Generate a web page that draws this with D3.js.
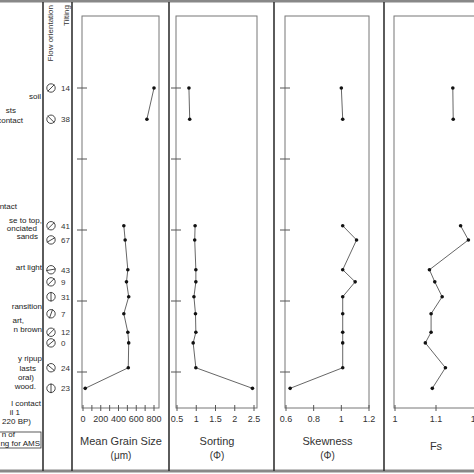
<!DOCTYPE html>
<html><head><meta charset="utf-8">
<script src="https://cdn.jsdelivr.net/npm/d3@7"></script>
<style>body{margin:0;background:#fff}svg{display:block;font-family:"Liberation Sans",Arial,sans-serif}</style>
</head><body><svg id="c" width="474" height="474"></svg>
<script>
// depth of each sample (in depth-tick units, 0 at top tick)
const depth = [0, 0.44, 1.94, 2.14, 2.56, 2.73, 2.94, 3.18, 3.44, 3.59, 3.94, 4.23];
const group = [0,0,1,1,1,1,1,1,1,1,1,1];
const tilting = [14,38,41,67,43,9,31,7,12,0,24,23];
const flowAngle = [45,-45,45,60,80,45,0,20,45,50,-50,0];
const grainSize = [800,720,460,475,505,490,515,460,505,515,510,25];
const sorting = [0.81,0.83,0.97,0.96,0.99,0.99,0.94,0.98,0.99,0.92,0.99,2.46];
const skewness = [1.0,1.01,1.01,1.11,1.01,1.10,1.01,1.01,1.01,1.01,1.01,0.63];
const fs = [1.141,1.142,1.160,1.179,1.084,1.097,1.115,1.088,1.088,1.074,1.123,1.091];
const depthTicks = [0,1,2,3,4];
const legendText = [
 ["soil",41,99],["sts",16,113],["contact",23,123],["ntact",17,209],
 ["se to top,",42,223],["onciated",37,231],["sands",38,239],["art light",42,270],
 ["ransition",42,309],["art,",24,323],["n brown",42,332],["y ripup",42,361],
 ["lasts",36,371],["oral)",34,380],["wood.",36,389],["l contact",41,406],
 ["il 1",20,415],["220 BP)",31,424],["n of",15,437],["ng for AMS",40,446]];

(function(){
const svg = d3.select("#c");
const y = d3.scaleLinear().domain([0,4]).range([88,372]);
const boxTop = 16, boxBottom = 408;

svg.append("rect").attr("x",-2).attr("y",1).attr("width",480).attr("height",470)
  .attr("fill","none").attr("stroke","#888").attr("stroke-width",3);
[43,72,169,274,384].forEach(x=>svg.append("line").attr("x1",x).attr("x2",x)
  .attr("y1",2).attr("y2",471).attr("stroke","#333").attr("stroke-width",1.6));

legendText.forEach(([t,x,yy])=>svg.append("text").attr("x",x).attr("y",yy)
  .attr("text-anchor","end").attr("font-size",8).attr("fill","#222").text(t));
svg.append("rect").attr("x",-2).attr("y",432).attr("width",43).attr("height",16)
  .attr("fill","none").attr("stroke","#333").attr("stroke-width",0.8);

svg.append("text").attr("transform","translate(53,5) rotate(-90)").attr("text-anchor","end")
  .attr("font-size",8).attr("fill","#333").text("Flow orientation");
svg.append("text").attr("transform","translate(69,5) rotate(-90)").attr("text-anchor","end")
  .attr("font-size",8).attr("fill","#333").text("Tilting");
depth.forEach((d,i)=>{
  const g = svg.append("g").attr("transform",`translate(51,${y(d)})`);
  g.append("circle").attr("r",4.2).attr("fill","none").attr("stroke","#333").attr("stroke-width",0.9);
  const a = flowAngle[i]*Math.PI/180;
  g.append("line").attr("x1",-4.8*Math.sin(a)).attr("y1",4.8*Math.cos(a))
    .attr("x2",4.8*Math.sin(a)).attr("y2",-4.8*Math.cos(a)).attr("stroke","#333").attr("stroke-width",0.9);
  svg.append("text").attr("x",61).attr("y",y(d)+3).attr("font-size",8).attr("fill","#333").text(tilting[i]);
});

function panel(vals, domain, range, boxR, ticks, labelTicks, title, sub, yTicks){
  const x = d3.scaleLinear().domain(domain).range(range);
  const x0 = range[0]-1;
  svg.append("rect").attr("x",x0).attr("y",boxTop).attr("width",boxR-x0).attr("height",boxBottom-boxTop)
    .attr("fill","none").attr("stroke","#777").attr("stroke-width",1);
  if(yTicks) depthTicks.forEach(t=>svg.append("line").attr("x1",x0-5).attr("x2",x0+5)
    .attr("y1",y(t)).attr("y2",y(t)).attr("stroke","#555"));
  ticks.forEach(t=>svg.append("line").attr("x1",x(t)).attr("x2",x(t)).attr("y1",boxBottom-3)
    .attr("y2",boxBottom+3).attr("stroke","#555"));
  labelTicks.forEach(t=>svg.append("text").attr("x",x(t)).attr("y",422).attr("text-anchor","middle")
    .attr("font-size",9).attr("fill","#333").text(t));
  [0,1].forEach(gi=>{
    const pts = vals.map((v,i)=>[x(v),y(depth[i]),group[i]]).filter(p=>p[2]===gi);
    svg.append("path").attr("d",d3.line()(pts.map(p=>[p[0],p[1]]))).attr("fill","none")
      .attr("stroke","#555").attr("stroke-width",0.9);
    pts.forEach(p=>svg.append("circle").attr("cx",p[0]).attr("cy",p[1]).attr("r",1.8).attr("fill","#111"));
  });
  const cx = (range[0]+Math.min(boxR,474))/2;
  svg.append("text").attr("x",title==="Fs"?436:cx).attr("y",sub?445:450).attr("text-anchor","middle")
    .attr("font-size",11).attr("fill","#333").text(title);
  if(sub) svg.append("text").attr("x",cx).attr("y",459).attr("text-anchor","middle")
    .attr("font-size",10).attr("fill","#333").text(sub);
}
panel(grainSize,[0,800],[83,154],159,d3.range(0,801,100),[0,200,400,600,800],"Mean Grain Size","(μm)",true);
panel(sorting,[0.5,2.5],[177,254],257,[0.5,1,1.5,2,2.5],[0.5,1,1.5,2,2.5],"Sorting","(Φ)",true);
panel(skewness,[0.6,1.2],[286,369],369,[0.6,0.8,1,1.2],[0.6,0.8,1,1.2],"Skewness","(Φ)",true);
panel(fs,[1,1.2],[395,477],490,[1,1.1,1.2],[1,1.1,1.2],"Fs",null,false);
})();
</script></body></html>
